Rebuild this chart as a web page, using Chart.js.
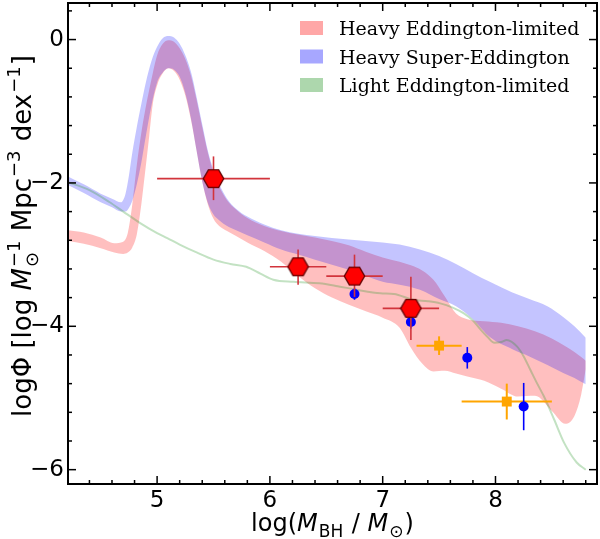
<!DOCTYPE html>
<html><head><meta charset="utf-8">
<script src="https://cdn.jsdelivr.net/npm/chart.js@4.4.1/dist/chart.umd.min.js"></script>
<style>html,body{margin:0;padding:0;background:#fff}</style>
</head><body>
<canvas id="c" width="600" height="539"></canvas>
<script>
// ---------------- data ----------------
const xTicks = [5, 6, 7, 8];
const yTicks = [0, -2, -4, -6];

const legendLabels = ['Heavy Eddington-limited', 'Heavy Super-Eddington', 'Light Eddington-limited'];

// Heavy Eddington-limited band (red)
const redX  = [4.21,4.35,4.50,4.62,4.70, 4.74,4.78,4.82,4.86,4.89, 4.93,4.96,5.00,5.05,5.10, 5.15,5.20,5.25,5.30,5.35, 5.40,5.45,5.50,5.55,5.62, 5.70,5.80,5.95,6.10,6.25, 6.40,6.55,6.70,6.85,7.00, 7.15,7.25,7.35,7.45,7.55, 7.65,7.75,7.90,8.05,8.20, 8.35,8.50,8.62,8.70,8.76, 8.80];
const redHi = [-2.66,-2.69,-2.76,-2.84,-2.82, -2.70,-2.30,-1.75,-1.30,-1.02, -0.70,-0.48,-0.22,-0.06,-0.01, -0.03,-0.12,-0.27,-0.50,-0.84, -1.22,-1.58,-1.86,-2.05,-2.24, -2.37,-2.49,-2.60,-2.67,-2.72, -2.76,-2.81,-2.87,-2.96,-3.04, -3.10,-3.15,-3.22,-3.35,-3.58, -3.82,-3.90,-3.93,-3.95,-4.00, -4.07,-4.17,-4.28,-4.36,-4.43, -4.48];
const redLo = [-2.81,-2.85,-2.91,-2.97,-2.99, -2.97,-2.90,-2.72,-2.30,-1.90, -1.35,-0.92,-0.64,-0.47,-0.40, -0.44,-0.56,-0.78,-1.12,-1.55, -1.98,-2.30,-2.50,-2.60,-2.67, -2.74,-2.83,-2.95,-3.10,-3.30, -3.47,-3.60,-3.70,-3.79,-3.88, -4.02,-4.30,-4.52,-4.63,-4.62, -4.66,-4.70,-4.76,-4.87,-4.98, -4.97,-5.18,-5.36,-5.25,-4.95, -4.60];

// Heavy Super-Eddington band (blue)
const blueX  = [4.21,4.35,4.50,4.60,4.68, 4.72,4.75,4.78,4.82,4.86, 4.90,4.95,5.00,5.05,5.10, 5.15,5.20,5.25,5.30,5.35, 5.40,5.45,5.50,5.55,5.62, 5.70,5.80,5.95,6.10,6.25, 6.40,6.55,6.70,6.85,7.00, 7.15,7.33,7.50,7.65,7.80, 7.95,8.15,8.30,8.46,8.60, 8.70,8.80];
const blueHi = [-1.91,-2.02,-2.15,-2.22,-2.27, -2.15,-1.90,-1.58,-1.22,-0.90, -0.60,-0.30,-0.10,0.02,0.05, 0.03,-0.06,-0.22,-0.45,-0.80, -1.18,-1.55,-1.82,-2.02,-2.22, -2.36,-2.47,-2.58,-2.66,-2.71, -2.74,-2.77,-2.79,-2.81,-2.83, -2.86,-2.93,-3.02,-3.13,-3.26, -3.38,-3.53,-3.62,-3.72,-3.87, -4.00,-4.16];
const blueLo = [-2.03,-2.14,-2.27,-2.34,-2.40, -2.40,-2.35,-2.25,-2.02,-1.72, -1.35,-0.92,-0.60,-0.46,-0.40, -0.42,-0.52,-0.75,-1.10,-1.55, -1.98,-2.28,-2.44,-2.52,-2.60, -2.66,-2.73,-2.83,-2.93,-3.00, -3.07,-3.14,-3.21,-3.30,-3.38, -3.42,-3.49,-3.62,-3.72,-3.90, -4.15,-4.32,-4.42,-4.54,-4.65, -4.72,-4.81];

// Light Eddington-limited (green line)
const greenX = [4.21,4.40,4.58,4.70,4.85, 5.00,5.09,5.20,5.35,5.50, 5.65,5.79,5.92,6.03,6.21, 6.44,6.60,6.77,6.98,7.10, 7.27,7.40,7.51,7.62,7.72, 7.80,7.87,7.93,7.99,8.05, 8.10,8.19,8.25,8.31,8.37, 8.43,8.52,8.61,8.72,8.80];
const greenY = [-1.99,-2.10,-2.27,-2.40,-2.56, -2.70,-2.77,-2.86,-2.97,-3.07, -3.13,-3.17,-3.27,-3.35,-3.38, -3.40,-3.44,-3.49,-3.54,-3.55, -3.63,-3.65,-3.68,-3.74,-3.82, -3.92,-4.05,-4.15,-4.23,-4.22, -4.19,-4.28,-4.42,-4.61,-4.80, -4.98,-5.30,-5.63,-5.90,-6.00];

// red hexagons with errors
const hexX = [5.5, 6.25, 6.75, 7.25];
const hexY = [-1.94, -3.17, -3.30, -3.75];
const hexXErr = [0.5, 0.25, 0.25, 0.25];
const hexYErrUp = [0.31, 0.24, 0.30, 0.44];
const hexYErrDn = [0.30, 0.25, 0.29, 0.44];

// blue circles with errors
const circX = [6.75, 7.25, 7.75, 8.25];
const circY = [-3.55, -3.94, -4.44, -5.12];
const circYErr = [0.08, 0.09, 0.15, 0.33];

// orange squares with errors
const sqX = [7.5, 8.1];
const sqY = [-4.27, -5.05];
const sqXErr = [0.2, 0.4];
const sqYErr = [0.13, 0.25];

// ---------------- helpers ----------------
const pts = (xs, ys) => xs.map((x, i) => ({x, y: ys[i]}));

const hexImg = (() => {
  const c = document.createElement('canvas'); c.width = 23; c.height = 21;
  const g = c.getContext('2d');
  g.beginPath();
  for (let k = 0; k < 6; k++) {
    const a = Math.PI / 3 * k;
    const px = 11.5 + 10.2 * Math.cos(a), py = 10.5 + 10.2 * Math.sin(a);
    if (k) g.lineTo(px, py); else g.moveTo(px, py);
  }
  g.closePath(); g.fillStyle = '#ff0000'; g.fill();
  g.lineWidth = 1.3; g.strokeStyle = '#600000'; g.stroke();
  return c;
})();

const errPlugin = {
  id: 'errbars',
  beforeDatasetDraw(chart, args) {
    const ds = chart.data.datasets[args.index];
    const e = ds.errInfo;
    if (!e) return;
    const xs = chart.scales.x, ys = chart.scales.y, ctx = chart.ctx;
    ctx.save();
    ctx.strokeStyle = e.color; ctx.lineWidth = e.width;
    ds.data.forEach((p, i) => {
      const px = xs.getPixelForValue(p.x), py = ys.getPixelForValue(p.y);
      if (e.xe) {
        ctx.beginPath();
        ctx.moveTo(xs.getPixelForValue(p.x - e.xe[i]), py);
        ctx.lineTo(xs.getPixelForValue(p.x + e.xe[i]), py);
        ctx.stroke();
      }
      if (e.yUp) {
        ctx.beginPath();
        ctx.moveTo(px, ys.getPixelForValue(p.y + e.yUp[i]));
        ctx.lineTo(px, ys.getPixelForValue(p.y - e.yDn[i]));
        ctx.stroke();
      }
    });
    ctx.restore();
  }
};

function drawRich(ctx, segs, cx, baseY, size) {
  const fam = '"DejaVu Sans"';
  const small = Math.round(size * 0.7);
  const fN = `${size}px ${fam}`, fI = `italic ${size}px ${fam}`, fS = `${small}px ${fam}`;
  let w = 0; const items = [];
  segs.forEach(s => {
    if (s.t !== undefined) {
      const f = s.i ? fI : fN; ctx.font = f;
      items.push({t: s.t, f, x: w, dy: 0}); w += ctx.measureText(s.t).width;
    } else {
      ctx.font = fS; let ww = 0;
      if (s.sub) { items.push({t: s.sub, f: fS, x: w + 1, dy: size * 0.25}); ww = Math.max(ww, ctx.measureText(s.sub).width); }
      if (s.sup) { items.push({t: s.sup, f: fS, x: w + 1, dy: -size * 0.42}); ww = Math.max(ww, ctx.measureText(s.sup).width); }
      w += ww + 2;
    }
  });
  ctx.textAlign = 'left'; ctx.textBaseline = 'alphabetic'; ctx.fillStyle = '#000';
  items.forEach(it => { ctx.font = it.f; ctx.fillText(it.t, cx - w / 2 + it.x, baseY + it.dy); });
}

const framePlugin = {
  id: 'frame',
  afterDraw(chart) {
    const ctx = chart.ctx, a = chart.chartArea, xs = chart.scales.x, ys = chart.scales.y;
    ctx.save();
    ctx.strokeStyle = '#000'; ctx.lineWidth = 1.5;
    const seg = (x1, y1, x2, y2) => { ctx.beginPath(); ctx.moveTo(x1, y1); ctx.lineTo(x2, y2); ctx.stroke(); };
    for (let k = Math.ceil(xs.min / 0.2); k * 0.2 <= xs.max + 1e-9; k++) {
      const v = k * 0.2, major = k % 5 === 0, L = major ? 8 : 4;
      const p = xs.getPixelForValue(v);
      seg(p, a.bottom, p, a.bottom - L); seg(p, a.top, p, a.top + L);
    }
    for (let k = Math.ceil(ys.min / 0.4); k * 0.4 <= ys.max + 1e-9; k++) {
      const v = k * 0.4, major = k % 5 === 0, L = major ? 8 : 4;
      const p = ys.getPixelForValue(v);
      seg(a.left, p, a.left + L, p); seg(a.right, p, a.right - L, p);
    }
    ctx.lineWidth = 2;
    ctx.strokeRect(a.left, a.top, a.right - a.left, a.bottom - a.top);

    drawRich(ctx, [{t: 'log('}, {t: 'M', i: 1}, {sub: 'BH'}, {t: ' / '}, {t: 'M', i: 1}, {sub: '\u2299'}, {t: ')'}],
      (a.left + a.right) / 2, 531, 24);
    ctx.save();
    ctx.translate(31, 236);
    ctx.rotate(-Math.PI / 2);
    drawRich(ctx, [{t: 'log\u03A6 [log '}, {t: 'M', i: 1}, {sub: '\u2299', sup: '\u22121'}, {t: ' Mpc'}, {sup: '\u22123'},
      {t: ' dex'}, {sup: '\u22121'}, {t: ']'}], 0, 0, 26);
    ctx.restore();

    const cols = ['rgba(255,60,60,0.45)', 'rgba(60,60,255,0.45)', 'rgba(60,160,60,0.42)'];
    ctx.font = '19px "DejaVu Serif"'; ctx.textBaseline = 'alphabetic'; ctx.textAlign = 'left';
    legendLabels.forEach((lab, i) => {
      const cy = 28 + i * 28.5;
      ctx.fillStyle = cols[i]; ctx.fillRect(300, cy - 7, 23, 14);
      ctx.fillStyle = '#000'; ctx.fillText(lab, 339, cy + 7);
    });
    ctx.restore();
  }
};

const minus = v => (v < 0 ? '\u2212' + Math.abs(v) : String(v));

new Chart(document.getElementById('c'), {
  type: 'line',
  data: {
    datasets: [
      // 0,1 blue band
      {data: pts(blueX, blueHi), fill: '+1', backgroundColor: 'rgba(0,0,255,0.23)', borderWidth: 0, pointRadius: 0, cubicInterpolationMode: 'monotone', order: 5},
      {data: pts(blueX, blueLo), fill: false, borderWidth: 0, pointRadius: 0, cubicInterpolationMode: 'monotone', order: 5},
      // 2,3 red band
      {data: pts(redX, redHi), fill: '+1', backgroundColor: 'rgba(255,0,0,0.25)', borderWidth: 0, pointRadius: 0, cubicInterpolationMode: 'monotone', order: 6},
      {data: pts(redX, redLo), fill: false, borderWidth: 0, pointRadius: 0, cubicInterpolationMode: 'monotone', order: 6},
      // 4 green line
      {data: pts(greenX, greenY), fill: false, borderColor: 'rgba(40,150,40,0.28)', borderWidth: 2, pointRadius: 0, cubicInterpolationMode: 'monotone', order: 4},
      // 5 orange squares
      {data: pts(sqX, sqY), showLine: false, pointStyle: 'rect', pointRadius: 7, backgroundColor: '#ffa500', borderColor: '#ffa500', borderWidth: 0, order: 3,
        errInfo: {color: '#ffa500', width: 2, xe: sqXErr, yUp: sqYErr, yDn: sqYErr}},
      // 6 blue circles
      {data: pts(circX, circY), showLine: false, pointStyle: 'circle', pointRadius: 5, backgroundColor: '#0000ff', borderColor: '#0000ff', borderWidth: 0, order: 2,
        errInfo: {color: '#0000ff', width: 1.6, yUp: circYErr, yDn: circYErr}},
      // 7 red hexagons
      {data: pts(hexX, hexY), showLine: false, pointStyle: hexImg, pointRadius: 9, order: 1,
        errInfo: {color: '#d2343c', width: 1.6, xe: hexXErr, yUp: hexYErrUp, yDn: hexYErrDn}}
    ]
  },
  options: {
    responsive: false, animation: false, devicePixelRatio: 1,
    layout: {autoPadding: false, padding: {left: 0, right: 3, top: 3, bottom: 0}},
    plugins: {legend: {display: false}, tooltip: {enabled: false}},
    elements: {line: {tension: 0.3}},
    scales: {
      x: {
        type: 'linear', min: 4.21, max: 8.9,
        grid: {display: false, drawTicks: false}, border: {display: false},
        afterBuildTicks: s => { s.ticks = xTicks.map(v => ({value: v})); },
        afterFit: s => { s.height = 55; s.paddingLeft = 0; s.paddingRight = 0; },
        ticks: {font: {family: 'DejaVu Sans', size: 23}, color: '#000', padding: 3, maxRotation: 0, autoSkip: false, callback: v => minus(v)}
      },
      y: {
        type: 'linear', min: -6.2, max: 0.51,
        grid: {display: false, drawTicks: false}, border: {display: false},
        afterBuildTicks: s => { s.ticks = yTicks.map(v => ({value: v})); },
        afterFit: s => { s.width = 68; s.paddingTop = 0; s.paddingBottom = 0; },
        ticks: {font: {family: 'DejaVu Sans', size: 23}, color: '#000', padding: 4, autoSkip: false, callback: v => minus(v)}
      }
    }
  },
  plugins: [errPlugin, framePlugin]
});
</script>
</body></html>
